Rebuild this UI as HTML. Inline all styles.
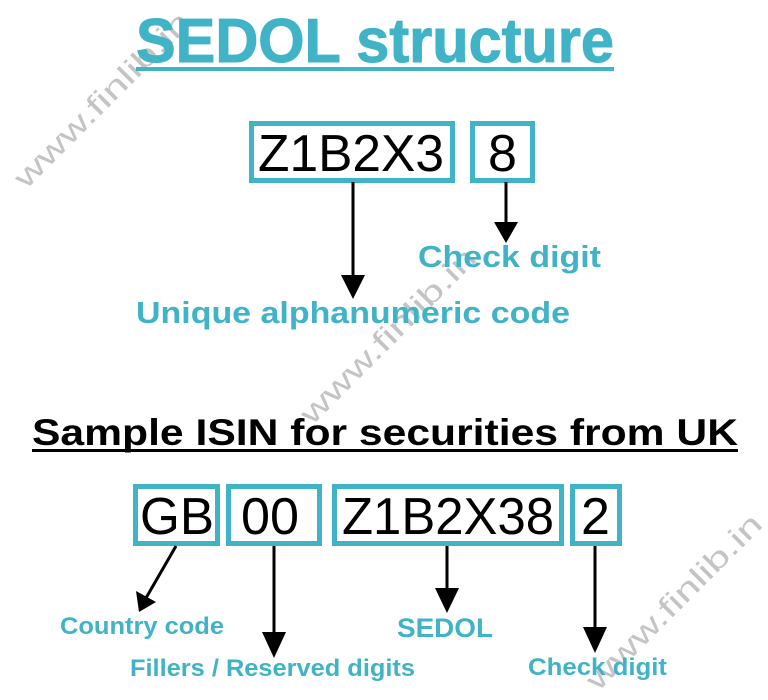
<!DOCTYPE html>
<html><head><meta charset="utf-8"><style>
html,body{margin:0;padding:0;background:#fff;}
svg{display:block;}
</style></head><body>
<svg width="768" height="700" viewBox="0 0 768 700" xmlns="http://www.w3.org/2000/svg" font-family="Liberation Sans, Arial, sans-serif">
<!-- watermarks -->
<g fill="#c4c4c4" font-size="30">
<text x="0" y="0" transform="translate(26,190) rotate(-45)" textLength="235" lengthAdjust="spacingAndGlyphs">www.finlib.in</text>
<text x="0" y="0" transform="translate(312,426) rotate(-45)" textLength="235" lengthAdjust="spacingAndGlyphs">www.finlib.in</text>
<text x="0" y="0" transform="translate(598,692) rotate(-45)" textLength="235" lengthAdjust="spacingAndGlyphs">www.finlib.in</text>
</g>
<!-- title -->
<text x="136" y="62" fill="#41b3c7" font-weight="bold" font-size="62" stroke="#41b3c7" stroke-width="1" textLength="478" lengthAdjust="spacingAndGlyphs">SEDOL structure</text>
<rect x="136" y="67" width="478" height="4" fill="#41b3c7"/>
<!-- boxes -->
<g fill="none" stroke="#41b3c7" stroke-width="5">
<rect x="251.5" y="123.5" width="201" height="57"/>
<rect x="472.5" y="123.5" width="60" height="57"/>
<rect x="135.5" y="486.5" width="82" height="57"/>
<rect x="228.5" y="486.5" width="91" height="57"/>
<rect x="334.5" y="486.5" width="227" height="57"/>
<rect x="572.5" y="486.5" width="47" height="57"/>
</g>
<g fill="#000" font-size="52">
<text x="258" y="171" textLength="186" lengthAdjust="spacingAndGlyphs">Z1B2X3</text>
<text x="488" y="171">8</text>
<text x="140" y="534" textLength="74" lengthAdjust="spacingAndGlyphs">GB</text>
<text x="241" y="534" textLength="58" lengthAdjust="spacingAndGlyphs">00</text>
<text x="342" y="534" textLength="212" lengthAdjust="spacingAndGlyphs">Z1B2X38</text>
<text x="581" y="534">2</text>
</g>
<!-- arrows -->
<g stroke="#000" stroke-width="3" fill="none">
<line x1="353" y1="182" x2="353" y2="285"/>
<line x1="506" y1="182" x2="506" y2="230"/>
<line x1="176" y1="546" x2="146" y2="598"/>
<line x1="274" y1="546" x2="274" y2="645"/>
<line x1="447" y1="546" x2="447" y2="600"/>
<line x1="595" y1="546" x2="595" y2="640"/>
</g>
<g fill="#000">
<polygon points="341,275 365,275 353,299"/>
<polygon points="494,222 518,222 506,243"/>
<polygon points="136,591 156,602 139,612"/>
<polygon points="262,632 286,632 274,658"/>
<polygon points="435,588 459,588 447,613"/>
<polygon points="583,627 607,627 595,653"/>
</g>
<!-- labels -->
<g fill="#41b3c7" font-weight="bold">
<text x="418" y="267" font-size="31" textLength="183" lengthAdjust="spacingAndGlyphs">Check digit</text>
<text x="136" y="323" font-size="31" textLength="434" lengthAdjust="spacingAndGlyphs">Unique alphanumeric code</text>
<text x="60" y="634" font-size="24" textLength="164" lengthAdjust="spacingAndGlyphs">Country code</text>
<text x="130" y="676" font-size="24" textLength="285" lengthAdjust="spacingAndGlyphs">Fillers / Reserved digits</text>
<text x="397" y="637" font-size="27" textLength="96" lengthAdjust="spacingAndGlyphs">SEDOL</text>
<text x="528" y="675" font-size="24" textLength="139" lengthAdjust="spacingAndGlyphs">Check digit</text>
</g>
<!-- subheading -->
<text x="32" y="445" fill="#000" font-weight="bold" font-size="37" textLength="706" lengthAdjust="spacingAndGlyphs">Sample ISIN for securities from UK</text>
<rect x="32" y="449" width="706" height="3" fill="#000"/>
</svg>
</body></html>
